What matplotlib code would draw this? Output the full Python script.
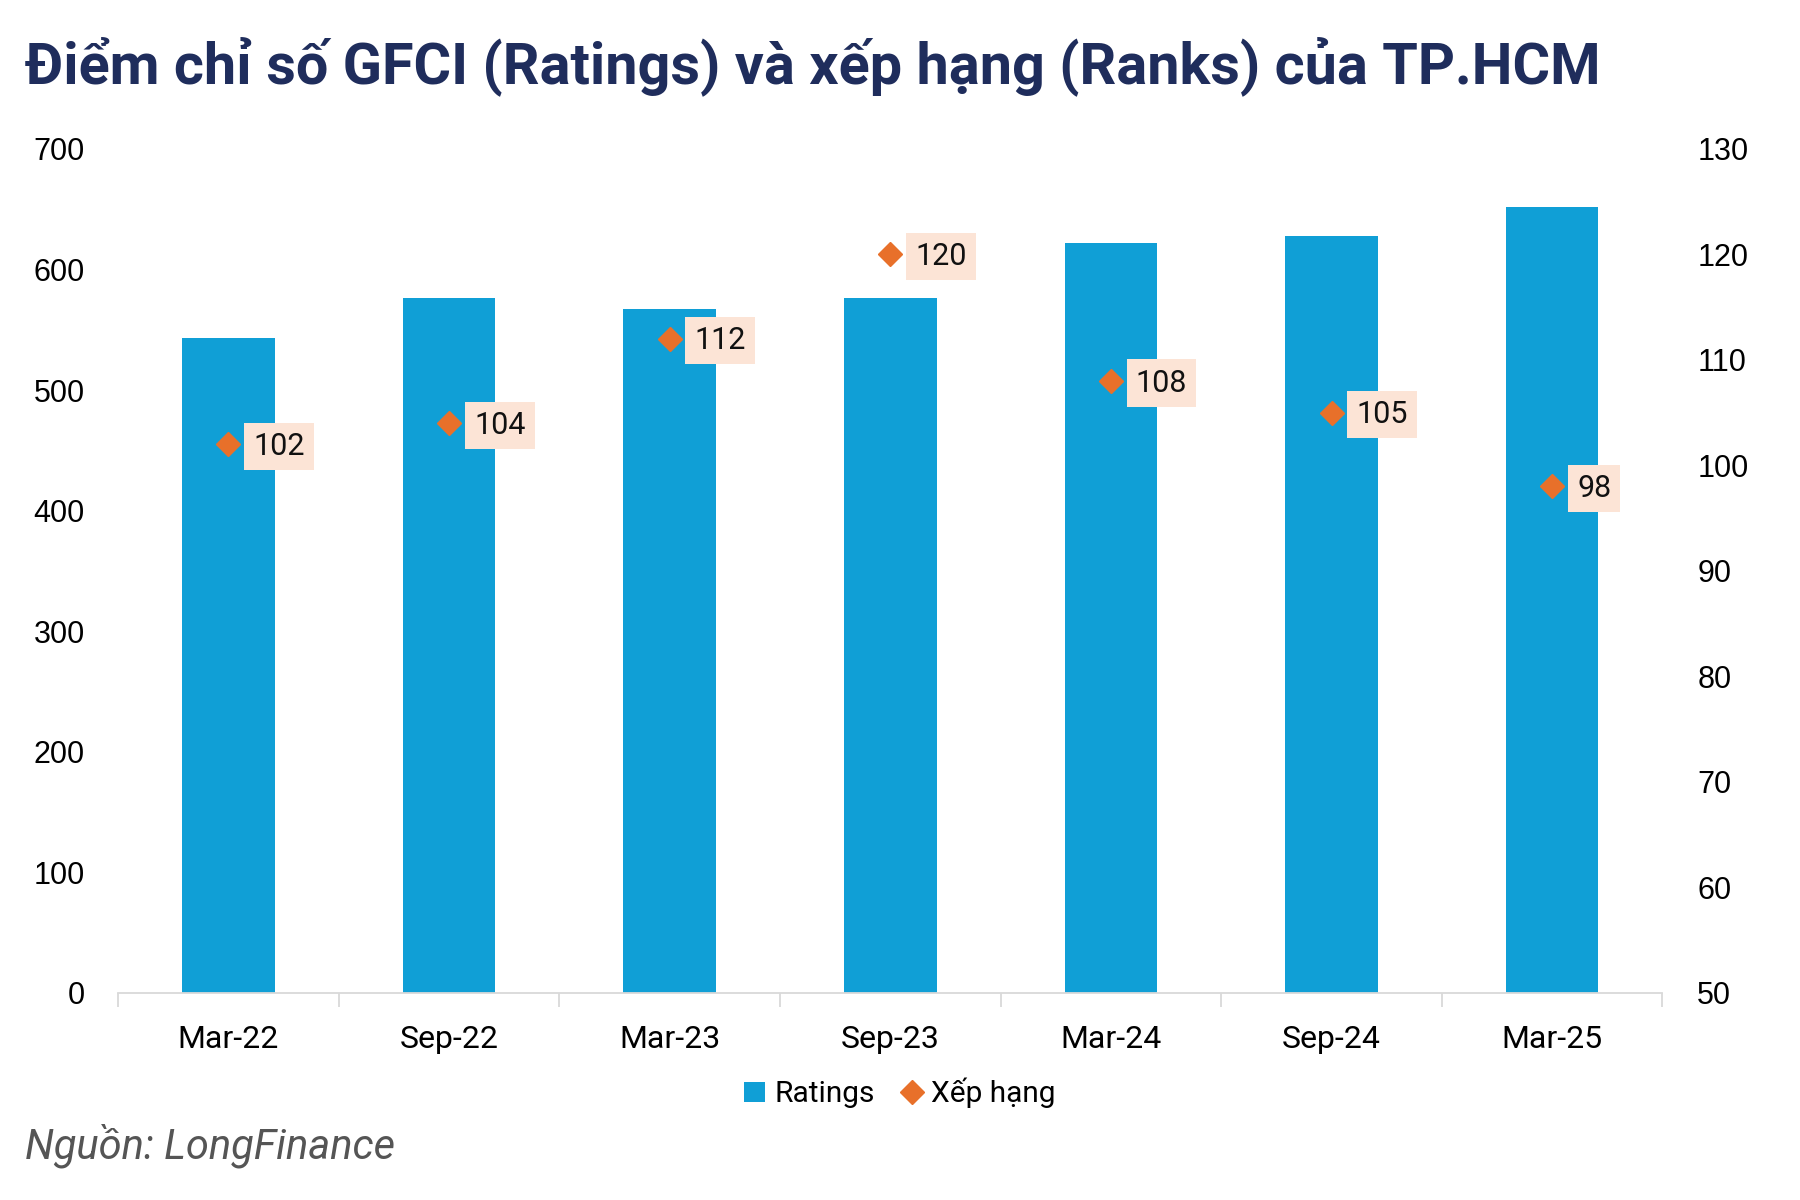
import matplotlib
matplotlib.use("Agg")
import matplotlib.pyplot as plt
from matplotlib.lines import Line2D
from matplotlib.patches import Patch

categories = ["Mar-22", "Sep-22", "Mar-23", "Sep-23", "Mar-24", "Sep-24", "Mar-25"]
ratings = [543, 576, 567, 576, 622, 628, 652]
ranks = [102, 104, 112, 120, 108, 105, 98]
left_ticks = [0, 100, 200, 300, 400, 500, 600, 700]
right_ticks = [50, 60, 70, 80, 90, 100, 110, 120, 130]

BAR = "#109FD6"
ORANGE = "#E8702A"
LABELBG = "#FCE4D6"
NAVY = "#1F2D5C"

fig = plt.figure(figsize=(18, 12), dpi=100)
ax = fig.add_axes([0.0656, 0.1725, 0.858, 0.7035])
x = list(range(len(categories)))
ax.bar(x, ratings, width=0.42, color=BAR, zorder=2)
ax.set_xlim(-0.5, len(categories) - 0.5)
ax.set_ylim(0, 700)
ax.set_yticks(left_ticks)
ax.set_yticklabels([str(t) for t in left_ticks], fontsize=22, family="Liberation Sans")
ax.set_xticks(x)
ax.set_xticklabels(categories, fontsize=23, family="Roboto")
ax.set_xticks([i - 0.5 for i in range(len(categories) + 1)], minor=True)
ax.tick_params(axis="x", which="major", length=0, pad=23)
ax.tick_params(axis="x", which="minor", length=10, color="#D9D9D9", width=1.3)
ax.tick_params(axis="y", length=0, pad=24)
for s in ["top", "left", "right"]:
    ax.spines[s].set_visible(False)
ax.spines["bottom"].set_color("#D9D9D9")
ax.spines["bottom"].set_linewidth(1.3)

ax2 = ax.twinx()
ax2.set_ylim(50, 130)
ax2.set_yticks(right_ticks)
ax2.set_yticklabels([str(t) for t in right_ticks], fontsize=22, family="Liberation Sans")
ax2.tick_params(axis="y", length=0, pad=25)
for s in ["top", "left", "right", "bottom"]:
    ax2.spines[s].set_visible(False)
ax2.plot(x, ranks, linestyle="none", marker="D", markersize=12, color=ORANGE, zorder=3)
for xi, r in zip(x, ranks):
    ax2.annotate(str(r), (xi, r), xytext=(18, -1.5), textcoords="offset points",
                 ha="left", va="center", fontsize=22, family="Roboto", color="#111111",
                 bbox=dict(boxstyle="square,pad=0.3", fc=LABELBG, ec="none"), zorder=4)

handles = [Patch(facecolor=BAR, edgecolor="none", label="Ratings"),
           Line2D([], [], linestyle="none", marker="D", markersize=12, color=ORANGE, label="Xếp hạng")]
fig.legend(handles=handles, loc="center", bbox_to_anchor=(0.5, 0.089), ncol=2, frameon=False,
           prop={"family": "Roboto", "size": 21.5}, handlelength=0.7, handletextpad=0.3, columnspacing=0.9)

fig.text(0.014, 0.945, "Điểm chỉ số GFCI (Ratings) và xếp hạng (Ranks) của TP.HCM",
         fontsize=41.5, fontweight="bold", color=NAVY, family="Roboto", va="center", ha="left")
fig.text(0.014, 0.045, "Nguồn: LongFinance", fontsize=30, style="italic", color="#555555",
         family="Roboto", va="center", ha="left")

fig.savefig("out.png", dpi=100)
